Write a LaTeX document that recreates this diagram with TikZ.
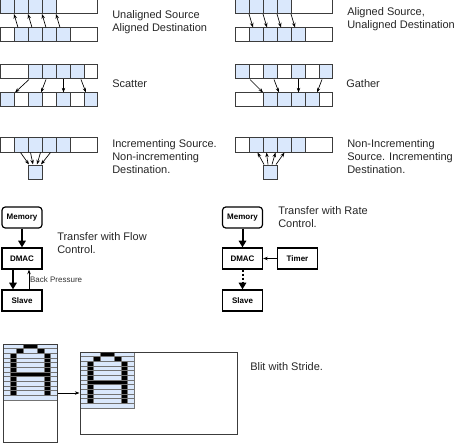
\documentclass[tikz,border=0pt]{standalone}
\usepackage{fontspec}
\setmainfont{Liberation Sans}
\usetikzlibrary{positioning,arrows.meta}
\definecolor{cellblue}{HTML}{DAE8FC}
\definecolor{edgegray}{HTML}{3C3C3C}

\tikzset{
  cell/.style={draw=edgegray, line width=0.75pt, inner sep=0pt, minimum height=10.5pt, anchor=west},
  sq/.style={draw=edgegray, line width=0.75pt, fill=cellblue, inner sep=0pt, minimum size=10.5pt},
  arr/.style={line width=0.5pt, -{Stealth[length=3.5pt,width=2.6pt]}},
  note/.style={anchor=west, align=left, font=\fontsize{8.25}{9.75}\selectfont, text=black!85, inner sep=0pt},
  blockbox/.style={draw, line width=0.9pt, inner sep=0pt, minimum width=30pt, minimum height=15.75pt, font=\fontsize{6}{7}\selectfont\bfseries},
  fat/.style={line width=1.5pt, -{Triangle[length=5pt,width=5.5pt]}},
  glyph/.style={draw=black!55, line width=0.4pt},
}

% pixel letter used by the blit
\newcommand{\glyphA}{%
  \foreach \r/\a/\b/\c in {0/0/2/cellblue, 0/3/4/black, 0/5/7/cellblue,
      1/0/1/cellblue, 1/2/2/black, 1/3/4/cellblue, 1/5/5/black, 1/6/7/cellblue,
      6/0/0/cellblue, 6/1/6/black, 6/7/7/cellblue, 11/0/7/cellblue}
    \draw[glyph, fill=\c] (\a*6.8,\r*4.65) rectangle (\b*6.8+6.8,\r*4.65+4.65);
  \foreach \r in {2,3,4,5,7,8,9,10}
    \foreach \a/\b/\c in {0/0/cellblue, 1/1/black, 2/5/cellblue, 6/6/black, 7/7/cellblue}
      \draw[glyph, fill=\c] (\a*6.8,\r*4.65) rectangle (\b*6.8+6.8,\r*4.65+4.65);
}

\begin{document}
\begin{tikzpicture}[x=0.75pt, y=-0.75pt]
  \useasboundingbox (0,0) rectangle (474,442);

  % unaligned source, aligned destination
  \foreach \x/\w/\c [count=\i] in {0/14/cellblue,14/14/cellblue,28/14/cellblue,42/14/cellblue,56/41/white}
    \node[cell, minimum width=\w*0.75pt, fill=\c] (us\i) at (\x,6.5) {};
  \foreach \x/\w/\c [count=\i] in {0/14/white,14/14/cellblue,28/14/cellblue,42/14/cellblue,56/14/cellblue,70/27/white}
    \node[cell, minimum width=\w*0.75pt, fill=\c] (ad\i) at (\x,35) {};
  \foreach \i [evaluate=\i as \j using int(\i+1)] in {1,...,4}
    \draw[arr] ([xshift=3pt]ad\j.north west) -- ([xshift=-0.75pt]us\i.south east);
  \node[note] (t1) at (112,22.5) {Unaligned Source\\Aligned Destination};

  % aligned source, unaligned destination
  \foreach \x/\w/\c [count=\i] in {235/14/cellblue,249/14/cellblue,263/14/cellblue,277/14/cellblue,291/41/white}
    \node[cell, minimum width=\w*0.75pt, fill=\c] (as\i) at (\x,6.5) {};
  \foreach \x/\w/\c [count=\i] in {235/14/white,249/14/cellblue,263/14/cellblue,277/14/cellblue,291/14/cellblue,305/27/white}
    \node[cell, minimum width=\w*0.75pt, fill=\c] (ud\i) at (\x,35) {};
  \foreach \i [evaluate=\i as \j using int(\i+1)] in {1,...,4}
    \draw[arr] ([xshift=-0.75pt]as\i.south east) -- ([xshift=3pt]ud\j.north west);
  \node[note] (t2) at (347,19.5) {Aligned Source,\\Unaligned Destination};

  % scatter
  \foreach \x/\w/\c [count=\i] in {0/28/white,28/14/cellblue,42/14/cellblue,56/14/cellblue,70/14/cellblue,84/13/white}
    \node[cell, minimum width=\w*0.75pt, fill=\c] (sct\i) at (\x,72) {};
  \foreach \x/\w/\c [count=\i] in {0/14/cellblue,14/14/white,28/14/cellblue,42/14/white,56/14/cellblue,70/14/white,84/13/cellblue}
    \node[cell, minimum width=\w*0.75pt, fill=\c] (scb\i) at (\x,100) {};
  \draw[arr] ([xshift=0.75pt]sct2.south west) -- (scb1.north east);
  \draw[arr] ([xshift=3pt]sct3.south west) -- ([xshift=-1.5pt]scb3.north east);
  \draw[arr] (sct4.south) -- (scb5.north);
  \draw[arr] ([xshift=-3pt]sct5.south east) -- ([xshift=1.5pt]scb7.north west);
  \node[note] (t3) at (112,84) {Scatter};

  % gather
  \foreach \x/\w/\c [count=\i] in {235/14/cellblue,249/14/white,263/14/cellblue,277/14/white,291/14/cellblue,305/14/white,319/13/cellblue}
    \node[cell, minimum width=\w*0.75pt, fill=\c] (gt\i) at (\x,72) {};
  \foreach \x/\w/\c [count=\i] in {235/28/white,263/14/cellblue,277/14/cellblue,291/14/cellblue,305/14/cellblue,319/13/white}
    \node[cell, minimum width=\w*0.75pt, fill=\c] (gb\i) at (\x,100) {};
  \draw[arr] (gt1.south east) -- (gb2.north west);
  \draw[arr] ([xshift=-3pt]gt3.south east) -- ([xshift=1.5pt]gb3.north west);
  \draw[arr] (gt5.south) -- (gb4.north);
  \draw[arr] ([xshift=2.25pt]gt7.south west) -- ([xshift=-2.25pt]gb5.north east);
  \node[note] (t4) at (346,84) {Gather};

  % incrementing source
  \foreach \x/\w/\c [count=\i] in {0/14/white,14/14/cellblue,28/14/cellblue,42/14/cellblue,56/14/cellblue,70/27/white}
    \node[cell, minimum width=\w*0.75pt, fill=\c] (ic\i) at (\x,145) {};
  \node[sq] (icd) at (35,172) {};
  \foreach \i/\s/\e in {2/-0.75/-4.5, 3/-3.75/-1.5, 4/-6.75/1.5, 5/-9.75/4.5}
    \draw[arr] ([xshift=\s pt]ic\i.south) -- ([xshift=\e pt]icd.north);
  \node[note] (t5) at (112,157) {Incrementing Source.\\Non-incrementing\\Destination.};

  % non-incrementing source
  \foreach \x/\w/\c [count=\i] in {235/14/white,249/14/cellblue,263/14/cellblue,277/14/cellblue,291/14/cellblue,305/27/white}
    \node[cell, minimum width=\w*0.75pt, fill=\c] (ni\i) at (\x,145) {};
  \node[sq] (nid) at (270,172) {};
  \foreach \i/\s/\e in {2/-4.5/0.75, 3/-1.5/-3, 4/1.5/-6.75, 5/4.5/-10.5}
    \draw[arr] ([xshift=\s pt]nid.north) -- ([xshift=\e pt]ni\i.south);
  \node[note] (t6) at (347,157) {Non-Incrementing\\Source. Incrementing\\Destination.};

  % flow control
  \node[blockbox, rounded corners=2.5pt] (meml) at (22,217.5) {Memory};
  \node[blockbox] (dmacl) at (22,258.5) {DMAC};
  \node[blockbox] (slavel) at (22,300.5) {Slave};
  \draw[fat] (meml) -- (dmacl);
  \draw[fat] ([xshift=-6.75pt]dmacl.south) -- ([xshift=-6.75pt]slavel.north);
  \draw[arr] ([xshift=5.25pt]slavel.north) -- node[anchor=west, inner sep=0.6pt, font=\fontsize{6}{7}\selectfont, text=black!80] {Back Pressure} ([xshift=5.25pt]dmacl.south);
  \node[note] (t7) at (57,243) {Transfer with Flow\\Control.};

  % rate control
  \node[blockbox, rounded corners=2.5pt] (memr) at (242.5,217.5) {Memory};
  \node[blockbox] (dmacr) at (242.5,258.5) {DMAC};
  \node[blockbox] (timer) at (297.5,258.5) {Timer};
  \node[blockbox] (slaver) at (242.5,300.5) {Slave};
  \draw[fat] (memr) -- (dmacr);
  \draw[arr] (timer) -- (dmacr);
  \draw[fat, dash pattern=on 1.5pt off 1.5pt] (dmacr) -- (slaver);
  \node[note] (t8) at (278,217.5) {Transfer with Rate\\Control.};

  % blit
  \begin{scope}[shift={(3,344)}] \glyphA \end{scope}
  \begin{scope}[shift={(80,352)}] \glyphA \end{scope}
  \node[draw=edgegray, line width=0.75pt, inner sep=0pt, minimum width=40.5pt, minimum height=73.5pt] (blsrc) at (30,393) {};
  \node[draw=edgegray, line width=0.75pt, inner sep=0pt, minimum width=117.75pt, minimum height=61.5pt] (bldst) at (158.5,393) {};
  \draw[arr] (blsrc) -- (bldst);
  \node[note] (t9) at (250,367) {Blit with Stride.};
\end{tikzpicture}
\end{document}
